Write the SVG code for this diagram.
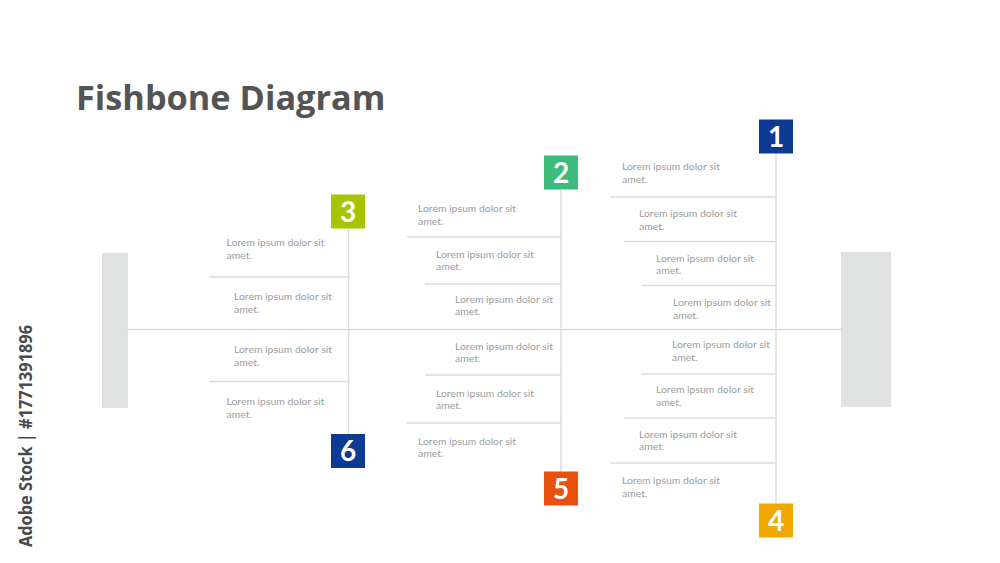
<svg xmlns="http://www.w3.org/2000/svg" width="1000" height="563" viewBox="0 0 1000 563">
  <style>
    .bg { fill: #ffffff; }
    .title { font-family: "Open Sans", "Liberation Sans", sans-serif; font-weight: 700; font-size: 34.3px; fill: #545454; }
    .wm { font-family: "Open Sans", "Liberation Sans", sans-serif; font-weight: 700; font-size: 18px; fill: #4a4a4a; }
    .lbl { font-family: Lato, "Liberation Sans", sans-serif; font-size: 10.4px; fill: #9d9d9d; }
    .num { font-family: Lato, "Liberation Sans", sans-serif; font-weight: 700; font-size: 28px; fill: #ffffff; text-anchor: middle; }
    .bone { stroke: #dcdcdc; stroke-width: 1.5; fill: none; }
    .cap { fill: #e0e1e1; }
  </style>
  <rect class="bg" x="0" y="0" width="1000" height="563"/>
  <text class="title" x="76" y="110">Fishbone Diagram</text>
  <text class="wm" transform="translate(32,547) rotate(-90)" textLength="222" lengthAdjust="spacingAndGlyphs">Adobe Stock | #1771391896</text>

  <g id="tail"><rect class="cap" x="102" y="253" width="26" height="155"/></g>
  <g id="head"><rect class="cap" x="841" y="252" width="50" height="155"/></g>

  <g id="connectors">
    <line class="bone" x1="125" y1="329.5" x2="843" y2="329.5"/>
    <!-- bone 3 / 6 -->
    <line class="bone" x1="348.5" y1="229" x2="348.5" y2="434"/>
    <line class="bone" x1="209" y1="277" x2="348.5" y2="277"/>
    <line class="bone" x1="209" y1="381.5" x2="348.5" y2="381.5"/>
    <!-- bone 2 / 5 -->
    <line class="bone" x1="561" y1="189" x2="561" y2="472"/>
    <line class="bone" x1="407" y1="237" x2="561" y2="237"/>
    <line class="bone" x1="425" y1="284" x2="561" y2="284"/>
    <line class="bone" x1="425" y1="375" x2="561" y2="375"/>
    <line class="bone" x1="407" y1="423" x2="561" y2="423"/>
    <!-- bone 1 / 4 -->
    <line class="bone" x1="776" y1="153" x2="776" y2="503"/>
    <line class="bone" x1="610" y1="197" x2="776" y2="197"/>
    <line class="bone" x1="624" y1="241.5" x2="776" y2="241.5"/>
    <line class="bone" x1="641.5" y1="285.5" x2="776" y2="285.5"/>
    <line class="bone" x1="641" y1="374" x2="776" y2="374"/>
    <line class="bone" x1="624" y1="418" x2="776" y2="418"/>
    <line class="bone" x1="610" y1="463" x2="776" y2="463"/>
  </g>

  <g id="node1"><rect x="759" y="119.5" width="34" height="34" fill="#0d3a93"/><text class="num" x="776" y="146.5">1</text></g>
  <g id="node2"><rect x="544" y="155.5" width="34" height="34" fill="#3dba7c"/><text class="num" x="561" y="182.5">2</text></g>
  <g id="node3"><rect x="331" y="194.5" width="34" height="34" fill="#a6c500"/><text class="num" x="348" y="221.5">3</text></g>
  <g id="node4"><rect x="759" y="503.5" width="34" height="34" fill="#f0a700"/><text class="num" x="776" y="530.5">4</text></g>
  <g id="node5"><rect x="544" y="471.5" width="34" height="34" fill="#e8500e"/><text class="num" x="561" y="498.5">5</text></g>
  <g id="node6"><rect x="331" y="434" width="34" height="34" fill="#0d3a93"/><text class="num" x="348" y="461">6</text></g>

  <g id="labels1">
    <text class="lbl" x="622" y="170">Lorem ipsum dolor sit<tspan x="622" dy="12.5">amet.</tspan></text>
    <text class="lbl" x="639" y="217">Lorem ipsum dolor sit<tspan x="639" dy="12.5">amet.</tspan></text>
    <text class="lbl" x="656" y="261.5">Lorem ipsum dolor sit<tspan x="656" dy="12.5">amet.</tspan></text>
    <text class="lbl" x="673" y="306">Lorem ipsum dolor sit<tspan x="673" dy="12.5">amet.</tspan></text>
  </g>
  <g id="labels4">
    <text class="lbl" x="672" y="348">Lorem ipsum dolor sit<tspan x="672" dy="12.5">amet.</tspan></text>
    <text class="lbl" x="656" y="393">Lorem ipsum dolor sit<tspan x="656" dy="12.5">amet.</tspan></text>
    <text class="lbl" x="639" y="437.5">Lorem ipsum dolor sit<tspan x="639" dy="12.5">amet.</tspan></text>
    <text class="lbl" x="622" y="484">Lorem ipsum dolor sit<tspan x="622" dy="12.5">amet.</tspan></text>
  </g>
  <g id="labels2">
    <text class="lbl" x="418" y="212">Lorem ipsum dolor sit<tspan x="418" dy="12.5">amet.</tspan></text>
    <text class="lbl" x="436" y="257.5">Lorem ipsum dolor sit<tspan x="436" dy="12.5">amet.</tspan></text>
    <text class="lbl" x="455" y="302.5">Lorem ipsum dolor sit<tspan x="455" dy="12.5">amet.</tspan></text>
  </g>
  <g id="labels5">
    <text class="lbl" x="455" y="349.5">Lorem ipsum dolor sit<tspan x="455" dy="12.5">amet.</tspan></text>
    <text class="lbl" x="436" y="396.5">Lorem ipsum dolor sit<tspan x="436" dy="12.5">amet.</tspan></text>
    <text class="lbl" x="418" y="444.5">Lorem ipsum dolor sit<tspan x="418" dy="12.5">amet.</tspan></text>
  </g>
  <g id="labels3">
    <text class="lbl" x="226.5" y="246">Lorem ipsum dolor sit<tspan x="226.5" dy="12.5">amet.</tspan></text>
    <text class="lbl" x="234" y="300">Lorem ipsum dolor sit<tspan x="234" dy="12.5">amet.</tspan></text>
  </g>
  <g id="labels6">
    <text class="lbl" x="234" y="353">Lorem ipsum dolor sit<tspan x="234" dy="12.5">amet.</tspan></text>
    <text class="lbl" x="226.5" y="405">Lorem ipsum dolor sit<tspan x="226.5" dy="12.5">amet.</tspan></text>
  </g>
</svg>
